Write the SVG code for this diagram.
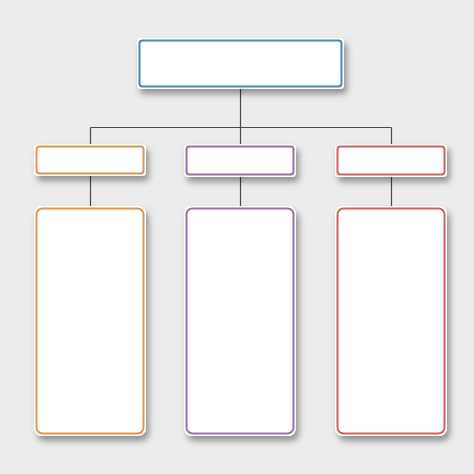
<svg xmlns="http://www.w3.org/2000/svg" width="474" height="474" viewBox="0 0 474 474">
<defs>
<filter id="sh" x="-20%" y="-20%" width="140%" height="160%">
<feDropShadow dx="3" dy="5" stdDeviation="3" flood-color="#000" flood-opacity="0.38"/>
</filter>
</defs>
<style>
.halo{fill:#fff;filter:url(#sh)}
.box{fill:#fff;stroke-width:2}
.ln{stroke:#4a4a4a;stroke-width:1.2;fill:none}
</style>
<rect width="474" height="474" fill="#ececec"/>
<g id="connectors">
<path class="ln" d="M240.5 87V127.5M90.5 127.5H391.5M90.5 127.5V146M240.5 127.5V146M391.5 127.5V146M90.5 174V208M240.5 175V208M391.5 175V208"/>
</g>
<g id="top">
<rect class="halo" x="137" y="38" width="207" height="51" rx="4"/>
<rect class="box" x="139.5" y="40.5" width="202" height="46" rx="3" stroke="#4588b6"/>
</g>
<g id="left-head">
<rect class="halo" x="34" y="144" width="112" height="32" rx="4"/>
<rect class="box" x="36.5" y="146.5" width="107" height="27" rx="3" stroke="#e0964e"/>
</g>
<g id="mid-head">
<rect class="halo" x="184" y="144" width="112" height="33" rx="4"/>
<rect class="box" x="186.5" y="146.5" width="107" height="28" rx="3" stroke="#9a6fae"/>
</g>
<g id="right-head">
<rect class="halo" x="335" y="144" width="112" height="33" rx="4"/>
<rect class="box" x="337.5" y="146.5" width="107" height="28" rx="3" stroke="#cf625c"/>
</g>
<g id="left-body">
<rect class="halo" x="34" y="206" width="112" height="230" rx="8"/>
<rect class="box" x="36.5" y="208.5" width="107" height="225" rx="6" stroke="#e0964e"/>
</g>
<g id="mid-body">
<rect class="halo" x="184" y="206" width="112" height="230" rx="8"/>
<rect class="box" x="186.5" y="208.5" width="107" height="225" rx="6" stroke="#9a6fae"/>
</g>
<g id="right-body">
<rect class="halo" x="335" y="206" width="112" height="230" rx="8"/>
<rect class="box" x="337.5" y="208.5" width="107" height="225" rx="6" stroke="#cf625c"/>
</g>
</svg>
